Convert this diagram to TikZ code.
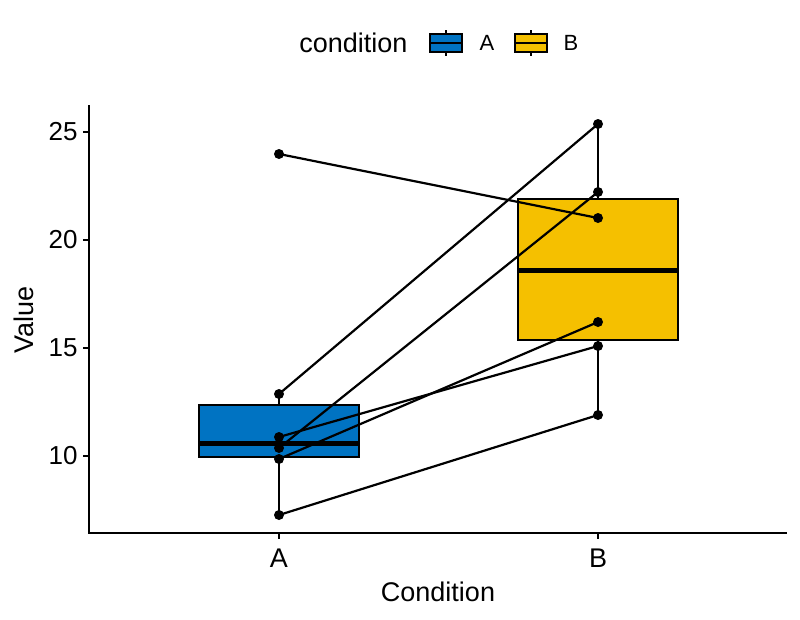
\documentclass[tikz,border=0pt]{standalone}
\usepackage{fontspec}
\setmainfont{Liberation Sans}
\definecolor{cA}{HTML}{0073C2}
\definecolor{cB}{HTML}{F5C000}
\begin{document}
\begin{tikzpicture}[x=1pt,y=-1pt,
  pt/.style={circle,fill=black,inner sep=0pt,minimum size=10pt},
  ln/.style={line width=2.2pt},
  lab/.style={font=\fontsize{27}{30}\selectfont},
  tl/.style={font=\fontsize{26}{30}\selectfont,anchor=east}]
\useasboundingbox (0,0) rectangle (800,619);
% axes
\draw[ln] (89,105) -- (89,533) -- (787,533);
\foreach \v/\y in {25/132,20/240,15/348,10/456}{
  \draw[ln] (83,\y) -- (89,\y);
  \node[tl] at (81,\y) {\v};}
\foreach \x/\t in {279/A,598/B}{
  \draw[ln] (\x,533) -- (\x,539);
  \node[lab] at (\x,558) {\t};}
\node[lab] at (438,592) {Condition};
\node[lab,rotate=90] at (24,320) {Value};
% box A
\draw[ln] (279,405) -- (279,394);
\draw[ln] (279,457) -- (279,515);
\draw[ln,fill=cA] (199,405) rectangle (359,457);
\draw[line width=5pt] (199,443) -- (359,443);
% box B
\draw[ln] (598,199) -- (598,124);
\draw[ln] (598,340) -- (598,415);
\draw[ln,fill=cB] (518,199) rectangle (678,340);
\draw[line width=5pt] (518,270) -- (678,270);
% points
\foreach \n/\y in {a1/154,a2/394,a3/437,a4/448,a5/459,a6/515}{\node[pt] (\n) at (279,\y) {};}
\foreach \n/\y in {b1/124,b2/192,b3/218,b4/322,b5/346,b6/415}{\node[pt] (\n) at (598,\y) {};}
\foreach \a/\b in {a1/b3,a2/b1,a3/b5,a4/b2,a5/b4,a6/b6}{\draw[ln] (\a.center) -- (\b.center);}
% legend
\node[lab,anchor=east] at (411,43) {condition};
\draw[ln] (446,30) -- (446,56);
\draw[ln,fill=cA] (430,34) rectangle (462,52);
\draw[ln] (430,43) -- (462,43);
\node[font=\fontsize{22}{25}\selectfont] at (487,43) {A};
\draw[ln] (531,30) -- (531,56);
\draw[ln,fill=cB] (515,34) rectangle (547,52);
\draw[ln] (515,43) -- (547,43);
\node[font=\fontsize{22}{25}\selectfont] at (571,43) {B};
\end{tikzpicture}
\end{document}
